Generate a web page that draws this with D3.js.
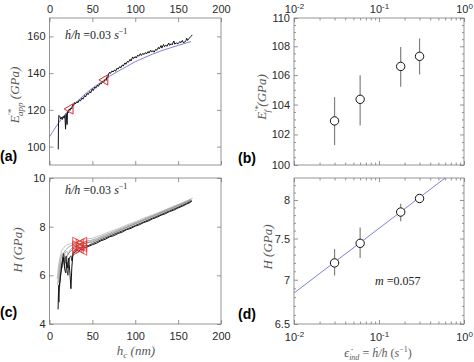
<!DOCTYPE html>
<html><head><meta charset="utf-8">
<script src="https://cdn.jsdelivr.net/npm/d3@7"></script>
<style>body{margin:0;background:#fff}svg{display:block}</style></head>
<body><svg id="c" width="474" height="362"></svg>
<script>
// ---------------- data ----------------
const depthTicks=[0,50,100,150,200];
const eappTicks=[100,120,140,160];
const hardTicks=[4,6,8,10];
const rateTicks=[0.01,0.1,1];
const rateTickExp=["-2","-1","0"];
const efTicks=[100,102,104,106,108,110];
const hrTicks=[6.5,7,7.5,8];

const eappCurve=[[10.2,98.5],[10.5,113],[11,117],[12,116.5],[13,115],[14,116],[15,114.8],[16,116.5],[17,115.5],[18,117],[18.7,109.5],[19.5,118],[20.5,112],[21,119],[22,118.5],[23,120.5],[24,119.8],[25,121],[26,120.5],[27,123],[28,122.2],[29,124],[30,123.2],[32,124.5],[33,123.8],[35,125.5],[36,124.8],[38,126.5],[39,125.8],[41,127.8],[42,127],[44,129],[45,128.3],[47,130],[48,129.2],[50,131.5],[51,130.5],[53,132.5],[54,131.8],[56,133.5],[57,132.8],[59,134.5],[60,134],[62,135.5],[63,135],[65,136.5],[66,136],[67,138],[68,137.5],[69,139.5],[70,140.5],[71,139.8],[73,141.2],[74,140.6],[76,141.8],[77,141],[79,142.8],[80,142.2],[82,143.6],[83,142.8],[85,144.5],[86,143.8],[88,145.6],[89,144.8],[91,146.5],[92,145.9],[94,147.5],[95,146.6],[97,148.8],[98,147.9],[100,149],[101,148.2],[103,149.8],[104,149.2],[106,150.6],[107,149.6],[109,150.8],[110,150.1],[112,151.2],[113,150.4],[115,151.8],[116,150.9],[118,152.5],[119,151.6],[121,152.2],[122,151.4],[124,153],[125,152.4],[127,154],[128,153.2],[130,155],[131,153.6],[133,155.6],[134,154.4],[136,155.2],[137,154.6],[139,156.4],[140,155.1],[142,156],[143,155.4],[145,157.5],[146,155.8],[148,156.4],[150,156],[152,157.2],[153,156.5],[155,157.8],[156,156.6],[158,157],[159,157.6],[160,159],[161,157.8],[163,159],[165,160],[166.5,160.8]];
const eappFit=[[0,105.3],[10,112.5],[20,118.5],[30,123.5],[40,128],[50,131.8],[60,135],[70,138.3],[80,141],[90,143.6],[100,146.2],[110,148.3],[120,150.3],[130,152.1],[140,153.6],[150,155.1],[165,157.2]];
const eappMarks=[[24,120.5],[64.5,136.3]];

const hardGrey=[
 [[9,5.85],[10,6.2],[11,6.5],[12,6.7],[13,6.85],[14,7.0],[16,7.1],[18,7.2],[20,7.25],[23,7.28],[26,7.32],[30,7.35],[34,7.38],[38,7.4],[42,7.5],[45,7.5],[50,7.52],[60,7.65],[70,7.79],[80,7.92],[90,8.07],[100,8.2],[110,8.35],[120,8.48],[130,8.63],[140,8.77],[150,8.92],[160,9.06],[167,9.17]],
 [[9.5,5.6],[10.5,6.0],[12,6.4],[13,6.65],[14,6.8],[15,6.9],[16,6.75],[17,6.95],[19,7.05],[21,7.12],[24,7.2],[27,7.25],[30,7.28],[35,7.3],[40,7.35],[44,7.42],[48,7.43],[55,7.51],[65,7.66],[75,7.8],[85,7.94],[95,8.09],[105,8.23],[115,8.38],[125,8.52],[135,8.67],[145,8.82],[155,8.96],[165,9.13]],
 [[10,5.9],[11,6.3],[12.5,6.6],[14,6.5],[15,6.8],[16.5,6.6],[18,6.9],[20,7.0],[22,6.85],[24,7.05],[27,7.15],[30,7.2],[35,7.25],[40,7.3],[45,7.36],[50,7.41],[60,7.55],[70,7.69],[80,7.84],[90,7.98],[100,8.12],[110,8.27],[120,8.41],[130,8.56],[140,8.7],[150,8.85],[160,9.0],[166,9.1]],
 [[11,5.7],[12,6.1],[13.5,6.5],[15,6.3],[16,6.6],[18,6.75],[19,6.5],[20.5,6.8],[22,6.9],[25,7.0],[28,7.1],[32,7.15],[36,7.22],[40,7.28],[44,7.36],[48,7.34],[55,7.44],[65,7.59],[75,7.74],[85,7.89],[95,8.04],[105,8.19],[115,8.34],[125,8.49],[135,8.64],[145,8.79],[155,8.94],[165,9.1]]
];
const hardDark=[
 [[10.5,5.6],[11,4.9],[11.5,5.4],[12.5,5.9],[14,6.3],[15.5,6.7],[16.5,6.9],[17.5,6.4],[18.5,6.7],[19.5,6.8],[20.5,6.2],[21.5,6.0],[22.5,6.5],[23.5,6.75],[25,6.8],[26,6.6],[27,6.9],[29,7.0],[31,7.1],[33,7.05],[35,7.15],[38,7.12],[40,7.2],[45,7.22],[50,7.3],[60,7.46],[70,7.61],[80,7.76],[90,7.9],[100,8.05],[110,8.2],[120,8.35],[130,8.5],[140,8.65],[150,8.8],[160,8.96],[166,9.06]],
 [[10,4.6],[10.4,5.2],[11,5.5],[12,5.7],[13,6.0],[14,6.3],[15,6.55],[16,6.75],[17,6.5],[18,6.2],[19,6.1],[20,6.55],[21,6.3],[22,6.7],[23,6.45],[24,6.0],[25,5.45],[26,6.3],[27,6.75],[28,6.9],[30,6.95],[32,7.05],[34,6.98],[36,7.08],[38,7.05],[40,7.12],[43,7.15],[46,7.2],[50,7.26],[55,7.32],[60,7.42],[65,7.48],[70,7.58],[75,7.63],[80,7.72],[85,7.78],[90,7.88],[95,7.93],[100,8.02],[105,8.08],[110,8.17],[115,8.23],[120,8.32],[125,8.38],[130,8.47],[135,8.53],[140,8.62],[145,8.68],[150,8.77],[155,8.84],[160,8.93],[164,8.99],[166,9.06]]
];
const hardMarksRight=[[29.5,6.97],[29.5,7.12],[29.5,7.27],[29.5,7.42],[33.5,7.05],[33.5,7.2],[33.5,7.35]];
const hardMarksLeft=[[41,6.97],[41,7.12],[41,7.27],[41,7.42],[37,7.05],[37,7.2],[37,7.35]];

const rates=[0.03,0.06,0.18,0.3];
const efMean=[102.9,104.35,106.6,107.3];
const efLow=[101.3,102.6,105.2,106.05];
const efHigh=[104.5,106.0,107.95,108.55];
const hMean=[7.2,7.44,7.84,8.02];
const hLow=[7.05,7.26,7.72,7.97];
const hHigh=[7.37,7.64,7.95,8.07];
const fitRate=[0.01,0.6];
const fitHard=[6.846,8.3];

// ---------------- drawing ----------------
const AX="#7a7a7a", TXT="#2a2a2a", TITLE="#5a5a5a";
const SANS="'Liberation Sans', Arial, sans-serif", SERIF="'Liberation Serif','Times New Roman',serif";
const svg=d3.select("#c");

const xa=d3.scaleLinear().domain([0,200]).range([49.5,221]);
const ya=d3.scaleLinear().domain([90,170]).range([165,18]);
const xb=d3.scaleLog().domain([0.01,1]).range([294,464]);
const yb=d3.scaleLog().domain([100,110]).range([165,18]);
const xc=d3.scaleLinear().domain([0,200]).range([49.5,221]);
const yc=d3.scaleLinear().domain([4,10]).range([324,178]);
const xd=d3.scaleLog().domain([0.01,1]).range([294,464]);
const yd=d3.scaleLog().domain([6.5,8.3]).range([324,178]);

const minorLog=[];
[0.01,0.1].forEach(d=>{for(let k=2;k<=9;k++)minorLog.push(d*k);});

function styleAxis(a){
  a.select(".domain").remove();
  a.selectAll(".tick line").attr("stroke",AX).attr("stroke-width",0.8);
  a.selectAll("text").attr("fill",TXT).attr("font-family",SANS).attr("font-size",11);
  return a;
}
function addAxis(gen,tx,ty){
  return styleAxis(svg.append("g").attr("transform",`translate(${tx},${ty})`).call(gen));
}
function box(x,y){
  svg.append("rect").attr("x",x.range()[0]).attr("y",y.range()[1])
    .attr("width",x.range()[1]-x.range()[0]).attr("height",y.range()[0]-y.range()[1])
    .attr("fill","none").attr("stroke",AX).attr("stroke-width",0.8);
}
function logLabels(a){
  a.selectAll(".tick text").each(function(d,i){
    const t=d3.select(this); t.text("10");
    t.append("tspan").attr("dy","-0.45em").attr("font-size",8).text(rateTickExp[i]);
  });
}
const plain=d3.format("");
function linearFrame(x,y,ticksY,topLabels){
  const y0=y.range()[0], y1=y.range()[1], x0=x.range()[0], x1=x.range()[1];
  addAxis(d3.axisLeft(y).tickValues(ticksY).tickSize(-4).tickPadding(4).tickFormat(plain),x0,0);
  addAxis(d3.axisRight(y).tickValues(ticksY).tickSize(-4).tickFormat(""),x1,0);
  if(topLabels){
    addAxis(d3.axisTop(x).tickValues(depthTicks).tickSize(-4).tickPadding(5).tickFormat(plain),0,y1);
    addAxis(d3.axisBottom(x).tickValues(depthTicks).tickSize(-4).tickFormat(""),0,y0);
  } else {
    addAxis(d3.axisTop(x).tickValues(depthTicks).tickSize(-4).tickFormat(""),0,y1);
    addAxis(d3.axisBottom(x).tickValues(depthTicks).tickSize(-4).tickPadding(8).tickFormat(plain),0,y0);
  }
}
function logFrame(x,y,ticksY,minorY,topLabels){
  const y0=y.range()[0], y1=y.range()[1], x0=x.range()[0], x1=x.range()[1];
  addAxis(d3.axisLeft(y).tickValues(ticksY).tickSize(-4).tickPadding(4).tickFormat(plain),x0,0);
  addAxis(d3.axisRight(y).tickValues(ticksY).tickSize(-4).tickFormat(""),x1,0);
  addAxis(d3.axisLeft(y).tickValues(minorY).tickSize(-2).tickFormat(""),x0,0);
  addAxis(d3.axisRight(y).tickValues(minorY).tickSize(-2).tickFormat(""),x1,0);
  addAxis(d3.axisTop(x).tickValues(minorLog).tickSize(-2.5).tickFormat(""),0,y1);
  addAxis(d3.axisBottom(x).tickValues(minorLog).tickSize(-2.5).tickFormat(""),0,y0);
  if(topLabels){
    logLabels(addAxis(d3.axisTop(x).tickValues(rateTicks).tickSize(-4).tickPadding(5),0,y1));
    addAxis(d3.axisBottom(x).tickValues(rateTicks).tickSize(-4).tickFormat(""),0,y0);
  } else {
    addAxis(d3.axisTop(x).tickValues(rateTicks).tickSize(-4).tickFormat(""),0,y1);
    logLabels(addAxis(d3.axisBottom(x).tickValues(rateTicks).tickSize(-4).tickPadding(9),0,y0));
  }
}
function clip(id,x,y){
  svg.append("clipPath").attr("id",id).append("rect").attr("x",x.range()[0]).attr("y",y.range()[1])
    .attr("width",x.range()[1]-x.range()[0]).attr("height",y.range()[0]-y.range()[1]);
}

// ---- panel (a)
clip("ca",xa,ya);
const ga=svg.append("g").attr("clip-path","url(#ca)");
ga.append("path").datum(eappFit).attr("fill","none").attr("stroke","#7f7fe0").attr("stroke-width",1)
  .attr("d",d3.line().curve(d3.curveMonotoneX).x(d=>xa(d[0])).y(d=>ya(d[1])));
ga.append("path").datum(eappCurve).attr("fill","none").attr("stroke","#111").attr("stroke-width",1)
  .attr("d",d3.line().x(d=>xa(d[0])).y(d=>ya(d[1])));
ga.selectAll(".ma").data(eappMarks).join("path")
  .attr("d",d3.symbol(d3.symbolTriangle,46)())
  .attr("transform",d=>`translate(${xa(d[0])},${ya(d[1])}) rotate(-90)`)
  .attr("fill","none").attr("stroke","#e02828").attr("stroke-width",1);
linearFrame(xa,ya,eappTicks,true);
box(xa,ya);

// ---- panel (c)
clip("cc",xc,yc);
const gc=svg.append("g").attr("clip-path","url(#cc)");
const greyCols=["#c4c4c4","#a8a8a8","#b8b8b8","#949494"];
const lineC=d3.line().x(d=>xc(d[0])).y(d=>yc(d[1]));
hardGrey.forEach((c,i)=>gc.append("path").datum(c).attr("fill","none").attr("stroke",greyCols[i]).attr("stroke-width",1).attr("d",lineC));
const darkCols=["#3a3a3a","#111"];
hardDark.forEach((c,i)=>gc.append("path").datum(c).attr("fill","none").attr("stroke",darkCols[i]).attr("stroke-width",1).attr("d",lineC));
const tri=d3.symbol(d3.symbolTriangle,22)();
gc.selectAll(".mr").data(hardMarksRight).join("path").attr("d",tri)
  .attr("transform",d=>`translate(${xc(d[0])},${yc(d[1])}) rotate(90)`)
  .attr("fill","none").attr("stroke","#e83030").attr("stroke-width",0.8);
gc.selectAll(".ml").data(hardMarksLeft).join("path").attr("d",tri)
  .attr("transform",d=>`translate(${xc(d[0])},${yc(d[1])}) rotate(-90)`)
  .attr("fill","none").attr("stroke","#e83030").attr("stroke-width",0.8);
linearFrame(xc,yc,hardTicks,false);
box(xc,yc);

// ---- panel (b)
const minorEf=[100.5,101,101.5,102.5,103,103.5,104.5,105,105.5,106.5,107,107.5,108.5,109,109.5];
logFrame(xb,yb,efTicks,minorEf,true);
box(xb,yb);
const gb=svg.append("g");
gb.selectAll("line.eb").data(rates).join("line")
  .attr("x1",d=>xb(d)).attr("x2",d=>xb(d)).attr("y1",(d,i)=>yb(efLow[i])).attr("y2",(d,i)=>yb(efHigh[i]))
  .attr("stroke","#808080").attr("stroke-width",1.2);
gb.selectAll("circle").data(rates).join("circle")
  .attr("cx",d=>xb(d)).attr("cy",(d,i)=>yb(efMean[i])).attr("r",4.2)
  .attr("fill","#fff").attr("stroke","#111").attr("stroke-width",1);

// ---- panel (d)
const minorHd=[6.6,6.7,6.8,6.9,7.1,7.2,7.3,7.4,7.6,7.7,7.8,7.9,8.1,8.2];
logFrame(xd,yd,hrTicks,minorHd,false);
clip("cd",xd,yd);
const gd=svg.append("g");
gd.append("line").attr("clip-path","url(#cd)")
  .attr("x1",xd(fitRate[0])).attr("y1",yd(fitHard[0])).attr("x2",xd(fitRate[1])).attr("y2",yd(fitHard[1]))
  .attr("stroke","#7f7fe0").attr("stroke-width",1);
box(xd,yd);
gd.selectAll("line.eb").data(rates).join("line")
  .attr("x1",d=>xd(d)).attr("x2",d=>xd(d)).attr("y1",(d,i)=>yd(hLow[i])).attr("y2",(d,i)=>yd(hHigh[i]))
  .attr("stroke","#808080").attr("stroke-width",1.2);
gd.selectAll("circle").data(rates).join("circle")
  .attr("cx",d=>xd(d)).attr("cy",(d,i)=>yd(hMean[i])).attr("r",4.2)
  .attr("fill","#fff").attr("stroke","#111").attr("stroke-width",1);

// ---- texts
function rateNote(x,y){
  const t=svg.append("text").attr("x",x).attr("y",y).attr("font-family",SERIF).attr("font-size",12).attr("fill","#222");
  t.append("tspan").attr("font-style","italic").text("\u1E23/h");
  t.append("tspan").text(" =0.03 ");
  t.append("tspan").attr("font-style","italic").text("s");
  t.append("tspan").attr("dy",-5).attr("font-size",8).text("\u22121");
}
rateNote(65,39);
rateNote(65,194);

const m=svg.append("text").attr("x",375).attr("y",285).attr("font-family",SERIF).attr("font-size",12).attr("fill","#222");
m.append("tspan").attr("font-style","italic").text("m");
m.append("tspan").text(" =0.057");

function yTitle(cx,cy,build){
  const t=svg.append("text").attr("transform",`translate(${cx},${cy}) rotate(-90)`).attr("text-anchor","middle")
   .attr("font-family",SERIF).attr("font-size",13).attr("fill",TITLE).attr("font-style","italic");
  build(t);
}
yTitle(19,95,t=>{
  t.append("tspan").text("E");
  t.append("tspan").attr("dy",-5).attr("font-size",9).text("\u2032*");
  t.append("tspan").attr("dx",-7).attr("dy",9).attr("font-size",9).text("app");
  t.append("tspan").attr("dy",-4).text(" (GPa)");
});
yTitle(266,97,t=>{
  t.append("tspan").text("E");
  t.append("tspan").attr("dy",-5).attr("font-size",9).text("\u2032*");
  t.append("tspan").attr("dx",-7).attr("dy",9).attr("font-size",9).text("f");
  t.append("tspan").attr("dy",-4).text(" (GPa)");
});
yTitle(22,250,t=>t.append("tspan").text("H (GPa)"));
yTitle(272,247,t=>t.append("tspan").text("H (GPa)"));

const xt1=svg.append("text").attr("x",136).attr("y",355).attr("text-anchor","middle")
  .attr("font-family",SERIF).attr("font-size",13).attr("fill",TITLE).attr("font-style","italic");
xt1.append("tspan").text("h");
xt1.append("tspan").attr("dy",3).attr("font-size",9).text("c");
xt1.append("tspan").attr("dy",-3).text(" (nm)");

const xt2=svg.append("text").attr("x",378).attr("y",357).attr("text-anchor","middle")
  .attr("font-family",SERIF).attr("font-size",12).attr("fill",TITLE).attr("font-style","italic");
xt2.append("tspan").text("\u03F5\u0307");
xt2.append("tspan").attr("dy",2.5).attr("font-size",8).text("ind");
xt2.append("tspan").attr("dy",-2.5).attr("font-style","normal").text(" = ");
xt2.append("tspan").text("\u1E23/h ");
xt2.append("tspan").attr("font-style","normal").text("(");
xt2.append("tspan").text("s");
xt2.append("tspan").attr("dy",-5).attr("font-size",8).attr("font-style","normal").text("\u22121");
xt2.append("tspan").attr("dy",5).attr("font-style","normal").text(")");

[["(a)",0,161],["(b)",238,163],["(c)",0,317],["(d)",238,319]].forEach(([s,x,y])=>{
  svg.append("text").attr("x",x).attr("y",y).attr("font-family",SANS).attr("font-weight","bold")
    .attr("font-size",14).attr("fill","#000").text(s);
});
</script></body></html>
